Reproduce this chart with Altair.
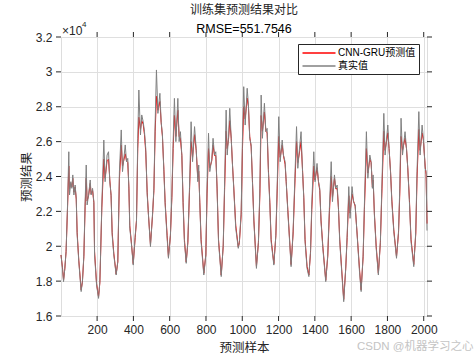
import altair as alt
import pandas as pd

PRED_NAME = "CNN-GRU预测值"
TRUE_NAME = "真实值"

sample_idx = [
    1, 9, 15, 22, 29, 37, 44, 48, 55, 61, 66, 72, 79, 85, 90, 99, 112, 119, 127, 134,
    140, 145, 153, 162, 167, 175, 182, 186, 197, 208, 215, 219, 226, 237, 244, 255, 263, 270, 277, 283,
    292, 305, 314, 323, 333,
    340, 355, 362, 369, 375, 380, 388, 399, 410, 417, 424, 430, 439, 446, 454, 461, 468, 476, 483, 494,
    505, 513, 520, 527, 535, 546, 553, 560, 568, 575, 586, 593, 604, 612, 619, 626, 634, 645,
    652, 659, 667, 674, 681, 691, 700, 709, 718, 726, 737, 746, 755, 760, 766, 773, 788, 799, 806, 814,
    821, 832, 839, 847, 854, 861, 869, 884, 895, 902, 911, 917, 924, 931, 939, 946, 953, 964, 978,
    984, 994, 1001, 1008, 1016, 1027, 1034, 1041, 1049, 1056, 1064, 1078, 1089, 1097, 1104, 1111, 1122, 1130, 1137, 1144,
    1152, 1159, 1174, 1185, 1192, 1201, 1209, 1220, 1227, 1236, 1242, 1251, 1269, 1280, 1291, 1299, 1306, 1317,
    1324, 1332, 1339, 1346, 1357, 1367, 1376, 1383, 1394, 1401, 1412, 1420, 1427, 1434, 1444, 1460, 1471, 1480, 1490, 1497,
    1508, 1515, 1523, 1530, 1537, 1548, 1559, 1570, 1578, 1587, 1594, 1605, 1613, 1622, 1633, 1646,
    1655, 1666, 1673, 1684, 1692, 1703, 1710, 1717, 1721, 1728, 1738, 1750, 1761, 1769, 1780, 1787, 1802, 1809, 1817, 1824,
    1835, 1850, 1861, 1868, 1875, 1883, 1897, 1905, 1912, 1921, 1930, 1945, 1956, 1963, 1973, 1980, 1991, 1998, 2008, 2013,
    2018,
]

true_values = [
    19500, 18730, 17970, 18730, 19690, 22370, 25420, 22940, 23700, 23320, 24090, 22940, 23510, 22750, 20640, 19120, 17400, 17970, 19500, 22560,
    24660, 22370, 22940, 23800, 22940, 23320, 22560, 19500, 17780, 17010, 17970, 19500, 22370, 26090, 23700, 25230, 25420, 23700, 22940, 20640,
    19500, 18350, 19120, 24280, 26670,
    24280, 25810, 24850, 25040, 23320, 21030, 20260, 18920, 20640, 21410, 26190, 28960, 26380, 27530, 27140, 26570, 25610, 22940, 21790, 19980,
    21790, 23320, 27140, 30110, 27620, 28770, 27140, 26380, 24280, 22370, 20450, 19310, 20640, 22940, 26000, 28480, 26000, 28480,
    26000, 26570, 25230, 22370, 20260, 19020, 20260, 23320, 27140, 24850, 26860, 25610, 23700, 24660, 22370, 20260, 18350, 19500, 23320, 26480,
    24280, 25040, 26190, 25230, 25420, 23320, 20260, 18260, 20070, 23320, 27810, 25230, 26190, 27910, 26190, 24660, 23320, 21030, 19880,
    20260, 21980, 26190, 29150, 26950, 29060, 28100, 26190, 25810, 23700, 21410, 18730, 20260, 23320, 28670, 26190, 28200, 26570, 26760, 24280,
    22370, 20260, 18920, 20640, 23320, 27430, 24850, 26090, 25230, 24850, 23700, 21980, 18830, 20840, 24280, 26860, 24470, 25810,
    26570, 24280, 22750, 20260, 18730, 18260, 19690, 22370, 25420, 23700, 24750, 23700, 23320, 21410, 19880, 17970, 19500, 22170, 24850, 22560,
    24090, 23320, 23510, 22170, 20260, 18540, 16820, 18730, 20640, 23420, 21600, 23420, 22560, 22370, 20640, 18540,
    17400, 19500, 22370, 26570, 23900, 25230, 24850, 23320, 24090, 21790, 19880, 18350, 20260, 23320, 27620, 25230, 26950, 25610, 24280, 22560,
    20840, 19310, 20840, 23320, 27340, 25230, 26570, 25610, 24470, 22560, 20260, 18830, 20840, 24280, 27720, 25230, 26950, 26190, 24470, 24280,
    20900,
]

pred_values = [
    19500, 18800, 18050, 18700, 19700, 22200, 24600, 23300, 23600, 23400, 23900, 23100, 23400, 22700, 20800, 19200, 17500, 17950, 19400, 22300,
    23900, 22600, 22900, 23600, 23000, 23200, 22500, 19700, 17850, 17100, 17900, 19400, 22200, 25000, 23900, 24900, 25000, 23800, 22900, 20800,
    19600, 18400, 19100, 23900, 25800,
    24600, 25300, 24900, 24800, 23400, 21200, 20300, 19000, 20500, 21500, 25600, 27400, 26700, 27200, 27000, 26400, 25400, 23100, 21800, 20100,
    21700, 23200, 26600, 28600, 27800, 28300, 27100, 26300, 24400, 22500, 20600, 19400, 20600, 22800, 25600, 27500, 26300, 27800,
    26300, 26200, 25200, 22500, 20400, 19100, 20200, 23100, 26000, 25100, 26400, 25500, 23900, 24300, 22500, 20400, 18450, 19500, 23000, 25600,
    24500, 24900, 25800, 25200, 25200, 23400, 20400, 18350, 20000, 23000, 26600, 25600, 26100, 27200, 26200, 24700, 23400, 21200, 19950,
    20200, 21800, 25600, 28000, 27300, 28500, 28000, 26300, 25700, 23800, 21500, 18850, 20200, 23000, 27500, 26600, 27700, 26600, 26500, 24400,
    22500, 20400, 19000, 20600, 23000, 26300, 25100, 25800, 25200, 24700, 23700, 22100, 18950, 20700, 23900, 26000, 24800, 25500,
    26000, 24400, 22800, 20400, 18850, 18350, 19600, 22100, 24600, 23800, 24500, 23700, 23200, 21500, 20000, 18050, 19400, 21900, 24000, 22800,
    23900, 23300, 23300, 22200, 20400, 18650, 16950, 18700, 20500, 22900, 21900, 23000, 22600, 22300, 20700, 18700,
    17500, 19400, 22100, 25600, 24200, 25000, 24800, 23400, 23800, 21900, 20000, 18450, 20200, 23000, 26600, 25500, 26500, 25600, 24300, 22700,
    20950, 19400, 20750, 23000, 26300, 25500, 26200, 25600, 24500, 22700, 20400, 18950, 20700, 23900, 26700, 25500, 26500, 26100, 24600, 24100,
    21300,
]

x_ticks = [200, 400, 600, 800, 1000, 1200, 1400, 1600, 1800, 2000]
y_ticks = [16000, 18000, 20000, 22000, 24000, 26000, 28000, 30000, 32000]

W, H = 366, 279
TL = 5
AX = "#262626"
CJK = "Noto Sans CJK SC"
LAT = "Liberation Sans"

long_df = pd.concat([
    pd.DataFrame({"s": sample_idx, "v": pred_values, "series": PRED_NAME}),
    pd.DataFrame({"s": sample_idx, "v": true_values, "series": TRUE_NAME}),
], ignore_index=True)
xt = pd.DataFrame({"s": x_ticks})
yt = pd.DataFrame({"v": y_ticks})

xscale = alt.Scale(domain=[1, 2018], nice=False, zero=False)
yscale = alt.Scale(domain=[16000, 32000], nice=False, zero=False)
cscale = alt.Scale(domain=[PRED_NAME, TRUE_NAME], range=["#ff0000", "#808080"])

x_axis = alt.Axis(values=x_ticks, format="d", ticks=False, domain=False, grid=True,
                  gridColor="#dfdfdf", labelFont=LAT, labelFontSize=12, labelColor=AX,
                  labelPadding=8, titleFont=CJK, titleFontSize=12.5, titleFontWeight="normal",
                  titleColor=AX, titlePadding=6, labelFlush=False, labelOverlap=False)
y_axis = alt.Axis(values=y_ticks, labelExpr="format(datum.value/10000, '~g')", ticks=False,
                  domain=False, grid=True, gridColor="#dfdfdf", labelFont=LAT, labelFontSize=12,
                  labelColor=AX, labelPadding=9, titleFont=CJK, titleFontSize=12.5,
                  titleFontWeight="normal", titleColor=AX, titlePadding=2, labelFlush=False,
                  labelOverlap=False)

XT = "预测样本"
YT = "预测结果"

legend = alt.Legend(orient="none", legendX=237, legendY=7, title=None,
                    symbolType="M-3.3,0L3.3,0", symbolSize=100, symbolStrokeWidth=1.3,
                    symbolOffset=12, labelOffset=13,
                    labelFont=LAT + ", " + CJK, labelFontSize=10, labelColor="#000000",
                    fillColor="white", strokeColor=AX, padding=3, rowPadding=2)

pred_line = alt.Chart(long_df).transform_filter(
    alt.datum.series == PRED_NAME
).mark_line(strokeWidth=1).encode(
    x=alt.X("s:Q", scale=xscale, axis=x_axis, title=XT),
    y=alt.Y("v:Q", scale=yscale, axis=y_axis, title=YT),
    color=alt.Color("series:N", scale=cscale, legend=legend),
)
true_line = alt.Chart(long_df).transform_filter(
    alt.datum.series == TRUE_NAME
).mark_line(strokeWidth=1).encode(
    x=alt.X("s:Q", scale=xscale, axis=x_axis, title=XT),
    y=alt.Y("v:Q", scale=yscale, axis=y_axis, title=YT),
    color=alt.Color("series:N", scale=cscale, legend=legend),
)

xtick_bot = alt.Chart(xt).mark_rule(color=AX, strokeWidth=1).encode(
    x=alt.X("s:Q", scale=xscale, axis=x_axis, title=XT), y=alt.value(H), y2=alt.value(H + TL))
xtick_top = alt.Chart(xt).mark_rule(color=AX, strokeWidth=1).encode(
    x=alt.X("s:Q", scale=xscale, axis=x_axis, title=XT), y=alt.value(-TL), y2=alt.value(0))
ytick_l = alt.Chart(yt).mark_rule(color=AX, strokeWidth=1).encode(
    y=alt.Y("v:Q", scale=yscale, axis=y_axis, title=YT), x=alt.value(-TL), x2=alt.value(0))
ytick_r = alt.Chart(yt).mark_rule(color=AX, strokeWidth=1).encode(
    y=alt.Y("v:Q", scale=yscale, axis=y_axis, title=YT), x=alt.value(W), x2=alt.value(W + TL))

exp_base = alt.Chart(pd.DataFrame({"t": ["×10"]})).mark_text(
    font=LAT, fontSize=12, color=AX, align="left", baseline="middle").encode(
    text="t:N", x=alt.value(1), y=alt.value(-6))
exp_pow = alt.Chart(pd.DataFrame({"t": ["4"]})).mark_text(
    font=LAT, fontSize=8, color=AX, align="left", baseline="middle").encode(
    text="t:N", x=alt.value(21), y=alt.value(-12))
wm = alt.Chart(pd.DataFrame({"t": ["CSDN @机器学习之心"]})).mark_text(
    font=LAT + ", " + CJK, fontSize=11.5, color="#c4c4c4", align="left",
    baseline="middle").encode(text="t:N", x=alt.value(296), y=alt.value(310))

chart = alt.layer(pred_line, true_line, xtick_bot, xtick_top, ytick_l, ytick_r,
                  exp_base, exp_pow, wm).properties(
    width=W, height=H,
    title=alt.TitleParams(text="训练集预测结果对比", subtitle="RMSE=551.7546",
                          font=CJK, fontSize=12, fontWeight="normal", color="#262626",
                          subtitleFont=LAT, subtitleFontSize=12.5, subtitleColor="#000000",
                          subtitlePadding=6, anchor="middle", offset=-15),
    autosize=alt.AutoSizeParams(type="none"),
    padding={"left": 61, "top": 37, "right": 47, "bottom": 39},
).configure_view(stroke=AX, strokeWidth=1).configure(background="white")

chart.save("out.html", embed_options={"renderer": "svg", "actions": False})
